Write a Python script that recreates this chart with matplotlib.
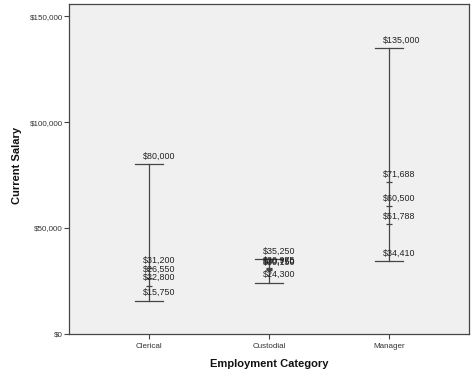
import matplotlib
matplotlib.use("Agg")
import matplotlib.pyplot as plt
import matplotlib.ticker as mticker

plt.rcParams['font.family'] = ['Liberation Sans', 'DejaVu Sans']

categories = ["Clerical", "Custodial", "Manager"]
low = [15750, 24300, 34410]
high = [80000, 35250, 135000]
q1 = [22800, 30150, 51788]
median = [26550, 30750, 60500]
q3 = [31200, 30975, 71688]

LINE = "#454545"

fig = plt.figure(figsize=(4.74, 3.79), dpi=100)
fig.patch.set_facecolor("white")
ax = fig.add_axes([0.1456, 0.1187, 0.8439, 0.8707])
ax.set_facecolor("#F0F0F0")

x = list(range(1, len(categories) + 1))
cap = 0.117

for i, xi in enumerate(x):
    ax.plot([xi, xi], [low[i], high[i]], color=LINE, lw=0.9, zorder=2)
    ax.plot([xi - cap, xi + cap], [high[i], high[i]], color=LINE, lw=0.9, zorder=2)
    ax.plot([xi - cap, xi + cap], [low[i], low[i]], color=LINE, lw=0.9, zorder=2)
    for v in (q1[i], median[i], q3[i]):
        ax.plot([xi], [v], marker="_", ms=5, mew=0.9, color=LINE, zorder=2)
    for v in (low[i], q1[i], median[i], q3[i], high[i]):
        ax.annotate(f"${v:,.0f}", (xi, v), xytext=(-4.5, 2.5),
                    textcoords="offset points", ha="left", va="bottom",
                    fontsize=6.4, color="#222222", zorder=3)

ax.set_xlim(1 / 3, 11 / 3)
ax.set_ylim(0, 155700)
ax.set_xticks(x)
ax.set_xticklabels(categories, fontsize=5.8, color="#333333")
ax.set_yticks([0, 50000, 100000, 150000])
ax.yaxis.set_major_formatter(mticker.FuncFormatter(lambda v, _: f"${v:,.0f}"))
ax.tick_params(axis="y", labelsize=5.8, labelcolor="#333333", length=3.5,
               width=0.8, color=LINE, pad=1)
ax.tick_params(axis="x", length=3.5, width=0.8, color=LINE, pad=3)
for s in ax.spines.values():
    s.set_color(LINE)
    s.set_linewidth(0.9)

ax.set_xlabel("Employment Category", fontsize=8, fontweight="bold", color="#111111")
ax.set_ylabel("Current Salary", fontsize=8, fontweight="bold", color="#111111")
ax.xaxis.set_label_coords(0.5, -0.077)
ax.yaxis.set_label_coords(-0.118, 0.51)

fig.savefig("out.png", dpi=100, facecolor="white")
